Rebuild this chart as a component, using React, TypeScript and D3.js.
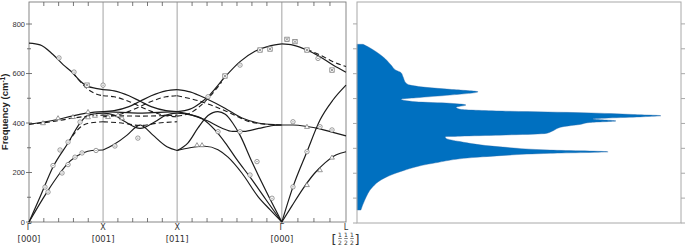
import React from "react";
import * as d3 from "d3";

const W = 685;
const H = 247;

// ---- symmetry points along the path (path-length units) ----
const symK = [0, 1, 2, 3.414, 4.28];
const symLabels = ["Γ", "X", "X", "Γ", "L"];
const symIndices = ["[000]", "[001]", "[011]", "[000]", ""];
const segTickCounts = [5, 5, 7, 4];
const freqMajor = [0, 200, 400, 600, 800];
const freqMinor = [100, 300, 500, 700];
const dosTicks = [0, 100, 200, 300, 400, 500, 600, 700, 800];

// ---- dispersion curves [k, frequency cm-1] ----
// Γ - X
const gxLO = [[0, 723], [0.15, 716], [0.32, 678], [0.46, 636], [0.59, 603], [0.69, 570], [0.78, 550], [0.9, 540], [1, 535]];
const gxLOd = [[0.59, 603], [0.69, 568], [0.78, 540], [0.9, 518], [1, 510]];
const gxTO = [[0, 395], [0.3, 409], [0.6, 429], [0.8, 441], [1, 446]];
const gxTOd = [[0, 395], [0.3, 405], [0.6, 420], [0.8, 428], [1, 432]];
const gxLA = [[0, 0], [0.149, 101], [0.324, 222], [0.527, 319], [0.689, 400], [0.78, 428], [0.9, 438], [1, 440]];
const gxLAd = [[0.527, 319], [0.62, 360], [0.7, 385], [0.8, 399], [1, 405]];
const gxTA = [[0, 0], [0.243, 121], [0.419, 198], [0.527, 238], [0.729, 279], [0.85, 289], [1, 291]];
// X - X
const xxD = [[1, 535], [1.15, 530], [1.35, 510], [1.5, 488], [1.65, 466], [1.85, 450], [2, 446]];
const xxE = [[1, 446], [1.15, 450], [1.35, 466], [1.5, 488], [1.65, 510], [1.85, 530], [2, 535]];
const xxDd = [[1, 510], [1.15, 506], [1.35, 487], [1.5, 467], [1.65, 447], [1.85, 430], [2, 425]];
const xxEd = [[1, 425], [1.15, 430], [1.35, 447], [1.5, 467], [1.65, 487], [1.85, 506], [2, 510]];
const xxTO = [[1, 446], [1.25, 443], [1.5, 440], [1.75, 443], [2, 446]];
const xxTOd = [[1, 432], [1.25, 429], [1.5, 428], [1.75, 429], [2, 432]];
const xxValley = [[1, 440], [1.15, 432], [1.3, 405], [1.5, 378], [1.7, 405], [1.85, 432], [2, 440]];
const xxValleyd = [[1, 405], [1.25, 400], [1.5, 390], [1.75, 400], [2, 405]];
const xxHump = [[1, 291], [1.135, 311], [1.324, 351], [1.45, 385], [1.5, 392], [1.55, 385], [1.674, 351], [1.863, 304], [2, 289]];
// X - Γ
const sgTop = [[2, 446], [2.174, 456], [2.309, 480], [2.444, 515], [2.646, 586], [2.849, 648], [3.051, 690], [3.254, 712], [3.414, 720]];
const sgTopd = [[2, 428], [2.174, 440], [2.309, 468], [2.444, 508], [2.6, 565]];
const sgS2 = [[2, 535], [2.174, 526], [2.417, 495], [2.646, 460], [2.876, 420], [3.092, 400], [3.321, 393], [3.414, 392]];
const sgS2d = [[2, 510], [2.309, 488], [2.646, 450], [2.984, 405], [3.2, 395], [3.414, 392]];
const sgS3 = [[2, 446], [2.2, 432], [2.4, 410], [2.6, 380], [2.75, 366], [2.9, 366], [3.1, 378], [3.3, 390], [3.414, 392]];
const sgArch = [[2, 289], [2.147, 320], [2.282, 380], [2.417, 430], [2.55, 446], [2.65, 435], [2.75, 400], [2.85, 350], [3.0, 250], [3.2, 125], [3.414, 0]];
const sgTA1 = [[2, 289], [2.174, 300], [2.376, 306], [2.552, 292], [2.687, 262], [2.876, 197], [3.092, 103], [3.254, 50], [3.414, 0]];
const sgTA2 = [[2, 440], [2.15, 435], [2.35, 415], [2.5, 375], [2.65, 320], [2.8, 255], [3.0, 175], [3.2, 90], [3.414, 0]];
// Γ - L
const glLO = [[3.414, 720], [3.564, 715], [3.753, 695], [3.929, 668], [4.104, 634], [4.28, 605]];
const glLOd = [[3.753, 697], [3.929, 675], [4.104, 648], [4.28, 628]];
const glLA = [[3.414, 0], [3.564, 142], [3.753, 284], [3.929, 412], [4.104, 493], [4.28, 553]];
const glTA = [[3.414, 0], [3.55, 65], [3.7, 135], [3.85, 195], [4.0, 240], [4.15, 272], [4.28, 284]];
const glTO = [[3.414, 392], [3.564, 392], [3.753, 386], [3.929, 376], [4.104, 362], [4.28, 348]];

const solidCurves = [gxLO, gxTO, gxLA, gxTA, xxD, xxE, xxTO, xxValley, xxHump, sgTop, sgS2, sgS3, sgArch, sgTA1, sgTA2, glLO, glLA, glTA, glTO];
const dashedCurves = [gxLOd, gxTOd, gxLAd, xxDd, xxEd, xxTOd, xxValleyd, sgTopd, sgS2d, glLOd];

// ---- experimental points [k, frequency] ----
const circlePts = [[0.405, 663], [0.608, 606], [1.0, 553], [0.216, 141], [0.324, 228], [0.419, 291], [0.527, 323], [0.689, 404],
  [0.257, 121], [0.446, 198], [0.527, 232], [0.621, 262], [0.716, 279], [0.905, 289], [1.47, 339], [1.16, 307],
  [2.417, 506], [2.849, 634], [2.552, 365], [2.849, 365], [3.078, 244], [2.984, 190], [3.281, 96],
  [3.564, 142], [3.753, 284], [3.902, 661], [3.564, 405], [3.929, 385], [4.091, 372]];
const trianglePts = [[0.189, 400], [0.392, 420], [0.594, 425], [0.797, 445], [0.797, 424], [0.891, 430],
  [1.067, 425], [1.202, 432], [1.256, 420], [2.268, 311], [2.336, 311],
  [3.753, 150], [3.929, 210], [4.091, 261], [3.753, 385]];
const squarePts = [[0.783, 553], [3.119, 695], [3.254, 699], [3.483, 738], [3.591, 729], [3.753, 695], [4.091, 614], [2.646, 590]];

// ---- phonon density of states [frequency, density] ----
const dosFreq = [52, 92, 146, 173, 206, 240, 266, 280, 286, 293, 306, 327, 340, 347, 349, 353, 360, 367, 387, 396, 404, 410, 418, 427, 431, 436, 443, 450, 457, 465, 474, 481, 487, 497, 503, 514, 527, 537, 545, 554, 563, 588, 604, 614, 635, 668, 688, 708, 718];
const dosVal = [1.2, 2.4, 4.9, 7.4, 13.3, 23.5, 38.9, 59.6, 77.5, 59.6, 44.1, 31.8, 27.5, 27.2, 31.8, 44.1, 58.3, 59.9, 63.6, 68.8, 71.9, 79.9, 72.8, 88.3, 93.8, 85.2, 69.8, 44.1, 31.8, 30.6, 33.6, 28.7, 18.2, 13.6, 18.2, 28.7, 37.3, 28.7, 21.3, 16.4, 15.1, 14.2, 13.6, 12.0, 10.5, 8.0, 5.9, 3.4, 1.9];

export default function App() {
  const x = d3.scaleLinear().domain([0, 4.28]).range([29, 346]);
  const y = d3.scaleLinear().domain([0, 889]).range([222, 2]);
  const yR = d3.scaleLinear().domain([0, 888]).range([223, 2]);
  const xR = d3.scaleLinear().domain([0, 100]).range([357, 681]);

  const line = d3.line<number[]>().x((d) => x(d[0])).y((d) => y(d[1])).curve(d3.curveMonotoneX);
  const dosData = dosFreq.map((f, i) => [f, dosVal[i]]);
  const area = d3.area<number[]>().y((d) => yR(d[0])).x0(xR(0)).x1((d) => xR(d[1])).curve(d3.curveMonotoneY);

  // minor k ticks along each segment
  const kTicks: number[] = [];
  segTickCounts.forEach((n, i) => {
    const a = symK[i], b = symK[i + 1];
    for (let j = 1; j < n; j++) kTicks.push(a + ((b - a) * j) / n);
  });

  const ink = "#1c1c1c";
  const mk = "#707070";
  const font = "Liberation Sans, Arial, sans-serif";

  return (
    <svg width={W} height={H} style={{ position: "absolute", left: 0, top: 0, background: "#fff" }} fontFamily={font}>
      {/* ---------- left panel: dispersion ---------- */}
      <g>
        <rect x={x(0)} y={y(889)} width={x(4.28) - x(0)} height={y(0) - y(889)} fill="none" stroke="#7a7a7a" strokeWidth={0.9} />
        {symK.slice(1, 4).map((k, i) => (
          <line key={"v" + i} x1={x(k)} x2={x(k)} y1={y(889)} y2={y(0)} stroke="#8a8a8a" strokeWidth={0.8} />
        ))}
        {kTicks.map((k, i) => (
          <g key={"kt" + i} stroke="#555" strokeWidth={0.8}>
            <line x1={x(k)} x2={x(k)} y1={y(0)} y2={y(0) - 4} />
            <line x1={x(k)} x2={x(k)} y1={y(889)} y2={y(889) + 4} />
          </g>
        ))}
        {freqMajor.map((f) => (
          <g key={"fm" + f}>
            <line x1={x(0) - 3} x2={x(0) + 3} y1={y(f)} y2={y(f)} stroke="#555" strokeWidth={0.8} />
            <text x={x(0) - 4} y={y(f)} dy="0.35em" textAnchor="end" fontSize={7.5} fill="#333">{f}</text>
          </g>
        ))}
        {freqMinor.map((f) => (
          <line key={"fn" + f} x1={x(0) - 2} x2={x(0) + 2} y1={y(f)} y2={y(f)} stroke="#555" strokeWidth={0.8} />
        ))}
        <text transform={`translate(8,${y(445)}) rotate(-90)`} textAnchor="middle" fontSize={9.5} fontWeight="bold" fill="#222">
          Frequency (cm<tspan dy={-3} fontSize={6.5}>-1</tspan><tspan dy={3}>)</tspan>
        </text>
        {solidCurves.map((c, i) => (
          <path key={"s" + i} d={line(c) || ""} fill="none" stroke={ink} strokeWidth={1.2} />
        ))}
        {dashedCurves.map((c, i) => (
          <path key={"d" + i} d={line(c) || ""} fill="none" stroke={ink} strokeWidth={1.1} strokeDasharray="5,3" />
        ))}
        {circlePts.map((p, i) => (
          <g key={"c" + i} stroke={mk} fill="none" strokeWidth={0.7}>
            <circle cx={x(p[0])} cy={y(p[1])} r={2.2} fill="#fff" />
            <circle cx={x(p[0])} cy={y(p[1])} r={0.6} fill={mk} stroke="none" />
          </g>
        ))}
        {trianglePts.map((p, i) => {
          const cx = x(p[0]), cy = y(p[1]);
          return <path key={"t" + i} d={`M${cx},${cy - 2.4}L${cx + 2.4},${cy + 1.7}L${cx - 2.4},${cy + 1.7}Z`} fill="#fff" stroke={mk} strokeWidth={0.7} />;
        })}
        {squarePts.map((p, i) => {
          const cx = x(p[0]), cy = y(p[1]);
          return (
            <g key={"q" + i} stroke={mk} strokeWidth={0.7} fill="#fff">
              <rect x={cx - 2.2} y={cy - 2.2} width={4.4} height={4.4} />
              <path d={`M${cx - 1.4},${cy - 1.4}L${cx + 1.4},${cy + 1.4}M${cx + 1.4},${cy - 1.4}L${cx - 1.4},${cy + 1.4}`} />
            </g>
          );
        })}
        {symK.map((k, i) => (
          <g key={"sl" + i} fill="#333" fontFamily="DejaVu Sans, sans-serif">
            <text x={x(k)} y={230} textAnchor="middle" fontSize={8}>{symLabels[i]}</text>
            {symIndices[i] && (
              <text x={x(k)} y={242} textAnchor="middle" fontSize={8.5}>{symIndices[i]}</text>
            )}
          </g>
        ))}
        <g fill="#333" fontFamily="DejaVu Sans, sans-serif" stroke="none">
          <text x={x(4.28) - 12} y={244} fontSize={13} textAnchor="middle">[</text>
          <text x={x(4.28) + 11} y={244} fontSize={13} textAnchor="middle">]</text>
          {[-6, 0, 6].map((o) => (
            <g key={"fr" + o}>
              <text x={x(4.28) + o} y={237} fontSize={6} textAnchor="middle">1</text>
              <line x1={x(4.28) + o - 1.8} x2={x(4.28) + o + 1.8} y1={238.5} y2={238.5} stroke="#333" strokeWidth={0.6} />
              <text x={x(4.28) + o} y={244.5} fontSize={6} textAnchor="middle">2</text>
            </g>
          ))}
        </g>
      </g>

      {/* ---------- right panel: density of states ---------- */}
      <g>
        <path d={area(dosData) || ""} fill="#0070c0" stroke="#2a6aa8" strokeWidth={0.4} />
        <rect x={xR(0)} y={yR(888)} width={xR(100) - xR(0)} height={yR(0) - yR(888)} fill="none" stroke="#a8a8a8" strokeWidth={1} />
        {dosTicks.map((f) => (
          <g key={"dt" + f} stroke="#a8a8a8" strokeWidth={1}>
            <line x1={xR(0) - 4} x2={xR(0)} y1={yR(f)} y2={yR(f)} />
            <line x1={xR(100)} x2={xR(100) + 4} y1={yR(f)} y2={yR(f)} />
          </g>
        ))}
      </g>
    </svg>
  );
}
